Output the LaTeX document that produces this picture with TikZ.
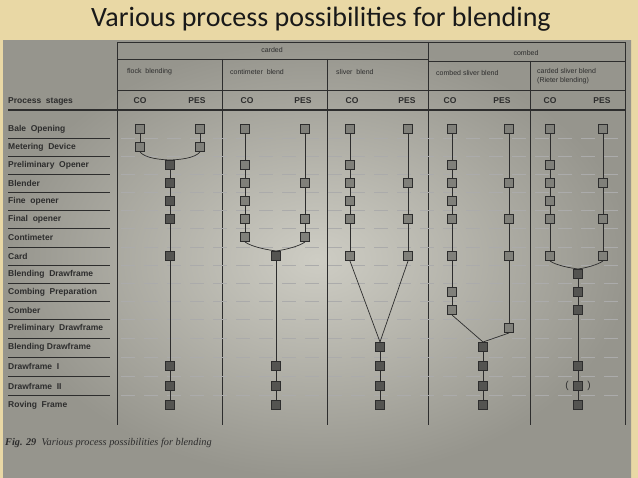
\documentclass[tikz,border=0pt]{standalone}
\usepackage{fontspec}
\setsansfont{Liberation Sans}
\newfontfamily\titlefont{Carlito}
\newfontfamily\capfont{Liberation Serif}

\definecolor{gold}{RGB}{233,216,165}
\definecolor{pagelight}{RGB}{206,205,196}
\definecolor{pagedark}{RGB}{150,149,141}
\definecolor{ink}{RGB}{45,45,45}
\definecolor{boxlt}{RGB}{128,128,122}
\definecolor{boxdk}{RGB}{84,84,81}

\tikzset{
  stg/.style={draw=ink, fill=boxlt, line width=1pt, minimum size=9pt, inner sep=0pt},
  stgdk/.style={stg, fill=boxdk},
  lbl/.style={anchor=west, inner sep=0pt, text=ink, font=\sffamily\bfseries\fontsize{8.5}{10}\selectfont},
  hd/.style={inner sep=0pt, text=ink, align=left, font=\sffamily\fontsize{7}{9}\selectfont},
  copes/.style={inner sep=0pt, text=ink, font=\sffamily\bfseries\fontsize{8.5}{10}\selectfont},
  rule/.style={draw=ink, line width=0.6pt},
  link/.style={draw=ink, line width=0.7pt}
}

\begin{document}
\begin{tikzpicture}[x=1pt,y=-1pt]
\useasboundingbox (0,0) rectangle (638,478);
\fill[gold] (0,0) rectangle (638,478);
\shade[inner color=pagelight, outer color=pagedark] (3,41) rectangle (631,478);
\node[text=black!90, font=\titlefont\fontsize{28}{34}\selectfont] (title) at (321,19) {Various process possibilities for blending};

% frame
\draw[rule] (117,42) -- (625,42);
\draw[rule] (117,59) -- (428,59);
\draw[rule] (428,61) -- (625,61);
\draw[rule] (117,90) -- (625,90);
\draw[ink, line width=1.3pt] (8,110) -- (625,110);
\foreach \x in {117,428,625} \draw[rule] (\x,42) -- (\x,425);
\foreach \x in {222,327} \draw[rule] (\x,59) -- (\x,425);
\draw[rule] (530,61) -- (530,425);
\foreach \y in {138,156,174,192,210,228,247,265,283,301,319,338,357,376,395} {
  \draw[rule, line width=0.5pt] (8,\y) -- (110,\y);
  \draw[ink!40, line width=0.4pt, dash pattern=on 14pt off 9pt] (121,\y) -- (622,\y);
}

% headings
\node[hd] (carded) at (272,50) {carded};
\node[hd] (combed) at (526,53) {combed};
\node[hd, anchor=west] (flock) at (127,72) {flock\ \ blending};
\node[hd, anchor=west] (conti) at (230,72) {contimeter\ \ blend};
\node[hd, anchor=west] (sliver) at (336,72) {sliver\ \ blend};
\node[hd, anchor=west] (combsl) at (436,73) {combed sliver blend};
\node[hd, anchor=west] (cardsl) at (537,76) {carded sliver blend\\(Rieter blending)};

\node[lbl] (ps) at (8,101) {Process\ \ stages};
\node[copes] at (140,101) {CO};  \node[copes] at (197,101) {PES};
\node[copes] at (247,101) {CO};  \node[copes] at (303,101) {PES};
\node[copes] at (352,101) {CO};  \node[copes] at (407,101) {PES};
\node[copes] at (450,101) {CO};  \node[copes] at (502,101) {PES};
\node[copes] at (550,101) {CO};  \node[copes] at (602,101) {PES};

% stages
\node[lbl] (r0) at (8,129) {Bale\ \ Opening};
\node[lbl] (r1) at (8,147) {Metering\ \ Device};
\node[lbl] (r2) at (8,165) {Preliminary\ \ Opener};
\node[lbl] (r3) at (8,183) {Blender};
\node[lbl] (r4) at (8,201) {Fine\ \ opener};
\node[lbl] (r5) at (8,219) {Final\ \ opener};
\node[lbl] (r6) at (8,237) {Contimeter};
\node[lbl] (r7) at (8,256) {Card};
\node[lbl] (r8) at (8,274) {Blending\ \ Drawframe};
\node[lbl] (r9) at (8,292) {Combing\ \ Preparation};
\node[lbl] (r10) at (8,310) {Comber};
\node[lbl] (r11) at (8,328) {Preliminary\ \ Drawframe};
\node[lbl] (r12) at (8,347) {Blending\ Drawframe};
\node[lbl] (r13) at (8,366) {Drawframe\ \ I};
\node[lbl] (r14) at (8,386) {Drawframe\ \ II};
\node[lbl] (r15) at (8,405) {Roving\ \ Frame};

% flock blending
\node[stg] (fc0) at (140,129) {};
\node[stg] (fc1) at (140,147) {};
\node[stg] (fp0) at (200,129) {};
\node[stg] (fp1) at (200,147) {};
\node[stgdk] (fm2) at (170,165) {};
\node[stgdk] (fm3) at (170,183) {};
\node[stgdk] (fm4) at (170,201) {};
\node[stgdk] (fm5) at (170,219) {};
\node[stgdk] (fm7) at (170,256) {};
\node[stgdk] (fm13) at (170,366) {};
\node[stgdk] (fm14) at (170,386) {};
\node[stgdk] (fm15) at (170,405) {};
\draw[link] (fc0) -- (fc1);
\draw[link] (fp0) -- (fp1);
\draw[link] (fc1.south) to[out=-50,in=178,looseness=0.7] (fm2.north);
\draw[link] (fp1.south) to[out=-130,in=2,looseness=0.7] (fm2.north);
\draw[link] (fm2) -- (fm3) -- (fm4) -- (fm5) -- (fm7) -- (fm13) -- (fm14) -- (fm15);

% contimeter blend
\node[stg] (cc0) at (245,129) {};
\node[stg] (cc2) at (245,165) {};
\node[stg] (cc3) at (245,183) {};
\node[stg] (cc4) at (245,201) {};
\node[stg] (cc5) at (245,219) {};
\node[stg] (cc6) at (245,237) {};
\node[stg] (cp0) at (305,129) {};
\node[stg] (cp3) at (305,183) {};
\node[stg] (cp5) at (305,219) {};
\node[stg] (cp6) at (305,237) {};
\node[stgdk] (cm7) at (276,256) {};
\node[stgdk] (cm13) at (276,366) {};
\node[stgdk] (cm14) at (276,386) {};
\node[stgdk] (cm15) at (276,405) {};
\draw[link] (cc0) -- (cc2) -- (cc3) -- (cc4) -- (cc5) -- (cc6);
\draw[link] (cp0) -- (cp3) -- (cp5) -- (cp6);
\draw[link] (cc6.south) to[out=-35,in=172,looseness=0.7] (cm7.north);
\draw[link] (cp6.south) to[out=-145,in=8,looseness=0.7] (cm7.north);
\draw[link] (cm7) -- (cm13) -- (cm14) -- (cm15);

% sliver blend
\node[stg] (sc0) at (350,129) {};
\node[stg] (sc2) at (350,165) {};
\node[stg] (sc3) at (350,183) {};
\node[stg] (sc4) at (350,201) {};
\node[stg] (sc5) at (350,219) {};
\node[stg] (sc7) at (350,256) {};
\node[stg] (sp0) at (408,129) {};
\node[stg] (sp3) at (408,183) {};
\node[stg] (sp5) at (408,219) {};
\node[stg] (sp7) at (408,256) {};
\node[stgdk] (sm12) at (380,347) {};
\node[stgdk] (sm13) at (380,366) {};
\node[stgdk] (sm14) at (380,386) {};
\node[stgdk] (sm15) at (380,405) {};
\draw[link] (sc0) -- (sc2) -- (sc3) -- (sc4) -- (sc5) -- (sc7);
\draw[link] (sp0) -- (sp3) -- (sp5) -- (sp7);
\draw[link] (sc7.south) -- (sm12.north);
\draw[link] (sp7.south) -- (sm12.north);
\draw[link] (sm12) -- (sm13) -- (sm14) -- (sm15);

% combed sliver blend
\node[stg] (kc0) at (452,129) {};
\node[stg] (kc2) at (452,165) {};
\node[stg] (kc3) at (452,183) {};
\node[stg] (kc4) at (452,201) {};
\node[stg] (kc5) at (452,219) {};
\node[stg] (kc7) at (452,256) {};
\node[stg] (kc9) at (452,292) {};
\node[stg] (kc10) at (452,310) {};
\node[stg] (kp0) at (509,129) {};
\node[stg] (kp3) at (509,183) {};
\node[stg] (kp5) at (509,219) {};
\node[stg] (kp7) at (509,256) {};
\node[stg] (kp11) at (509,328) {};
\node[stgdk] (km12) at (483,347) {};
\node[stgdk] (km13) at (483,366) {};
\node[stgdk] (km14) at (483,386) {};
\node[stgdk] (km15) at (483,405) {};
\draw[link] (kc0) -- (kc2) -- (kc3) -- (kc4) -- (kc5) -- (kc7) -- (kc9) -- (kc10);
\draw[link] (kp0) -- (kp3) -- (kp5) -- (kp7) -- (kp11);
\draw[link] (kc10.south) -- (km12.north);
\draw[link] (kp11.south) -- (km12.north);
\draw[link] (km12) -- (km13) -- (km14) -- (km15);

% carded sliver blend (Rieter)
\node[stg] (rc0) at (550,129) {};
\node[stg] (rc2) at (550,165) {};
\node[stg] (rc3) at (550,183) {};
\node[stg] (rc4) at (550,201) {};
\node[stg] (rc5) at (550,219) {};
\node[stg] (rc7) at (550,256) {};
\node[stg] (rp0) at (603,129) {};
\node[stg] (rp3) at (603,183) {};
\node[stg] (rp5) at (603,219) {};
\node[stg] (rp7) at (603,256) {};
\node[stgdk] (rm8) at (578,274) {};
\node[stgdk] (rm9) at (578,292) {};
\node[stgdk] (rm10) at (578,310) {};
\node[stgdk] (rm13) at (578,366) {};
\node[stgdk] (rm14) at (578,386) {};
\node[stgdk] (rm15) at (578,405) {};
\node[copes, font=\sffamily\fontsize{10}{12}\selectfont] (lpar) at (567,386) {(};
\node[copes, font=\sffamily\fontsize{10}{12}\selectfont] (rpar) at (589,386) {)};
\draw[link] (rc0) -- (rc2) -- (rc3) -- (rc4) -- (rc5) -- (rc7);
\draw[link] (rp0) -- (rp3) -- (rp5) -- (rp7);
\draw[link] (rc7.south) to[out=-35,in=172,looseness=0.7] (rm8.north);
\draw[link] (rp7.south) to[out=-145,in=8,looseness=0.7] (rm8.north);
\draw[link] (rm8) -- (rm9) -- (rm10) -- (rm13) -- (rm14) -- (rm15);

\node[anchor=west, inner sep=0pt, text=ink, font=\capfont\itshape\fontsize{10.3}{12}\selectfont] (cap) at (5,443) {\textbf{Fig. 29}\ \ Various process possibilities for blending};
\end{tikzpicture}
\end{document}
